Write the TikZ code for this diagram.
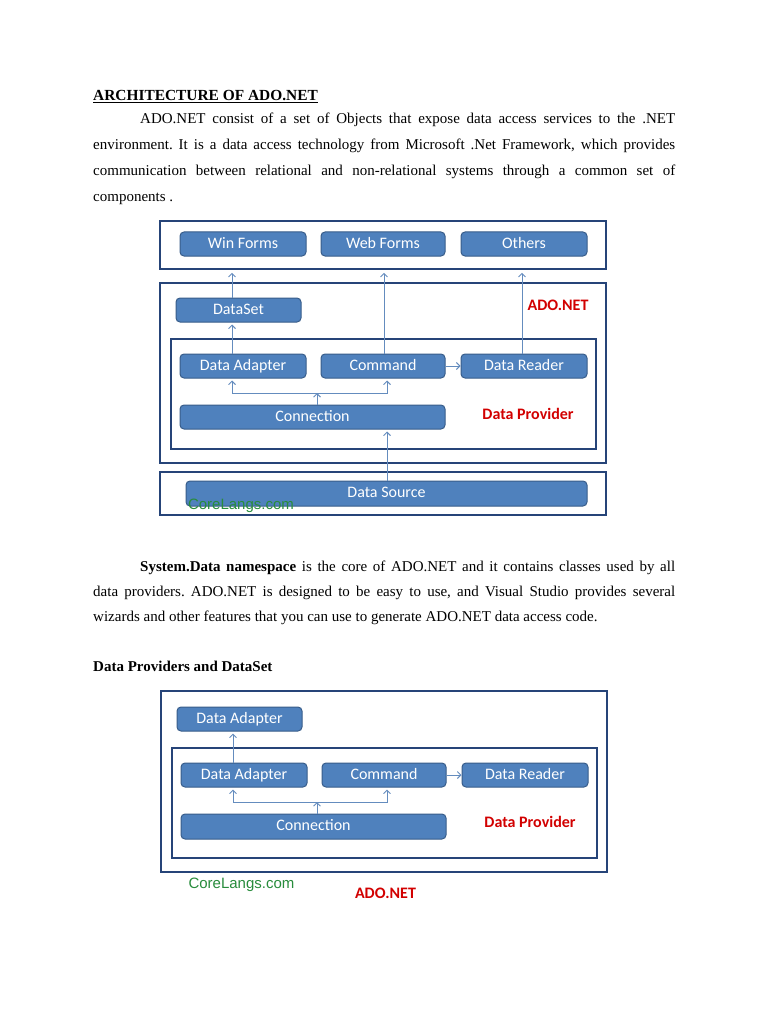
\documentclass[tikz,border=0pt]{standalone}
\usepackage{fontspec}
\setmainfont{Liberation Serif}
\newfontfamily\btnfont{Carlito}
\newfontfamily\webfont{Liberation Sans}
\usetikzlibrary{arrows.meta}
\frenchspacing
\definecolor{btnfill}{RGB}{79,129,189}
\definecolor{btnline}{RGB}{56,93,138}
\definecolor{boxline}{RGB}{38,68,120}
\definecolor{arrc}{RGB}{100,140,190}
\definecolor{redtxt}{RGB}{210,0,0}
\definecolor{greentxt}{RGB}{40,140,60}
\tikzset{
  btn/.style={draw=btnline, line width=1pt, fill=btnfill, rounded corners=4pt, text=white,
    font=\btnfont\fontsize{16}{16}\selectfont, inner sep=0pt, minimum height=24pt,
    text height=11pt, text depth=3pt},
  frame/.style={draw=boxline, line width=1.6pt, inner sep=0pt},
  arr/.style={draw=arrc, line width=0.9pt, -{Straight Barb[length=3.5pt,width=7pt]}},
  txt/.style={anchor=base west, inner sep=0pt, font=\fontsize{15}{18}\selectfont},
  redlbl/.style={inner sep=0pt, text=redtxt, font=\btnfont\bfseries\fontsize{16}{16}\selectfont},
  wmark/.style={inner sep=0pt, text=greentxt, font=\webfont\fontsize{15}{15}\selectfont}
}
\begin{document}
\begin{tikzpicture}[x=1pt,y=-1pt]
\fill[white] (0,0) rectangle (768,1024);
\useasboundingbox (0,0) rectangle (768,1024);

% text block 1
\node[txt, font=\fontsize{15.4}{18}\selectfont] (h1) at (93,101) {\textbf{\underline{ARCHITECTURE OF ADO.NET}}};
\node[txt] (p1a) at (140,124) {\makebox[535pt][s]{ADO.NET consist of a set of Objects that expose data access services to the .NET}};
\node[txt] (p1b) at (93,150) {\makebox[582pt][s]{environment. It is a data access technology from Microsoft .Net Framework, which provides}};
\node[txt] (p1c) at (93,176) {\makebox[582pt][s]{communication between relational and non-relational systems through a common set of}};
\node[txt] (p1d) at (93,202) {components .};

% diagram 1
\node[frame, minimum width=446pt, minimum height=48pt] (topframe) at (383,245) {};
\node[btn, minimum width=126pt] (winf) at (243,244) {Win Forms};
\node[btn, minimum width=124pt] (webf) at (383,244) {Web Forms};
\node[btn, minimum width=126pt] (others) at (524,244) {Others};

\node[frame, minimum width=446pt, minimum height=180pt] (adoframe) at (383,373) {};
\node[btn, minimum width=125pt] (dataset) at (238.5,310) {DataSet};
\node[redlbl] (adolbl) at (558,305) {ADO.NET};

\node[frame, minimum width=425pt, minimum height=110pt] (dpframe) at (383.5,394) {};
\node[btn, minimum width=126pt] (da) at (243,366) {Data Adapter};
\node[btn, minimum width=124pt] (cmd) at (383,366) {Command};
\node[btn, minimum width=126pt] (dr) at (524,366) {Data Reader};
\node[btn, minimum width=265pt] (conn) at (312.5,417) {Connection};
\node[redlbl] (dplbl) at (528,414) {Data Provider};

\node[frame, minimum width=446pt, minimum height=43pt] (dsframe) at (383,493.5) {};
\node[btn, minimum width=401pt, minimum height=25pt] (ds) at (386.5,493.5) {Data Source};
\node[wmark] (wm1) at (241,506) {CoreLangs.com};

\draw[arr, shorten >=2pt] ([xshift=-11pt]da.north) -- ([xshift=-11pt]da.north |- dataset.south);
\draw[arr, shorten >=3pt] ([xshift=-6.5pt]dataset.north) -- ([xshift=-6.5pt]dataset.north |- topframe.south);
\draw[arr, shorten >=3pt] ([xshift=1pt]cmd.north) -- ([xshift=1pt]cmd.north |- topframe.south);
\draw[arr, shorten >=3pt] ([xshift=-2pt]dr.north) -- ([xshift=-2pt]dr.north |- topframe.south);
\draw[arr] (cmd.east) -- (dr.west);
\coordinate (j1) at (317,393);
\draw[arr] (conn.north -| j1) -- (j1);
\draw[arr, shorten >=2pt] (j1) -| ([xshift=-11pt]da.south);
\draw[arr, shorten >=2pt] (j1) -| ([xshift=4pt]cmd.south);
\draw[arr, shorten >=2pt] ([xshift=0.5pt]ds.north) -- ([xshift=0.5pt]ds.north |- conn.south);

% text block 2
\node[txt] (p2a) at (140,571) {\makebox[535pt][s]{\textbf{System.Data namespace} is the core of ADO.NET and it contains classes used by all}};
\node[txt] (p2b) at (93,596) {\makebox[582pt][s]{data providers. ADO.NET is designed to be easy to use, and Visual Studio provides several}};
\node[txt] (p2c) at (93,621) {wizards and other features that you can use to generate ADO.NET data access code.};
\node[txt] (h2) at (93,671) {\textbf{Data Providers and DataSet}};

% diagram 2
\node[frame, minimum width=446pt, minimum height=181pt] (frame2) at (384,781.5) {};
\node[btn, minimum width=125pt] (da2top) at (239.5,719) {Data Adapter};
\node[frame, minimum width=425pt, minimum height=110pt] (dpframe2) at (384.5,803) {};
\node[btn, minimum width=126pt] (da2) at (244,775) {Data Adapter};
\node[btn, minimum width=124pt] (cmd2) at (384,775) {Command};
\node[btn, minimum width=126pt] (dr2) at (525,775) {Data Reader};
\node[btn, minimum width=265pt, minimum height=25pt] (conn2) at (313.5,826.5) {Connection};
\node[redlbl] (dplbl2) at (530,822) {Data Provider};
\node[wmark] (wm2) at (241.5,885) {CoreLangs.com};
\node[redlbl] (adolbl2) at (385.5,893) {ADO.NET};

\draw[arr, shorten >=2pt] ([xshift=-11pt]da2.north) -- ([xshift=-11pt]da2.north |- da2top.south);
\draw[arr] (cmd2.east) -- (dr2.west);
\coordinate (j3) at (317,802);
\draw[arr] (conn2.north -| j3) -- (j3);
\draw[arr, shorten >=2pt] (j3) -| ([xshift=-11pt]da2.south);
\draw[arr, shorten >=2pt] (j3) -| ([xshift=3pt]cmd2.south);
\end{tikzpicture}
\end{document}
